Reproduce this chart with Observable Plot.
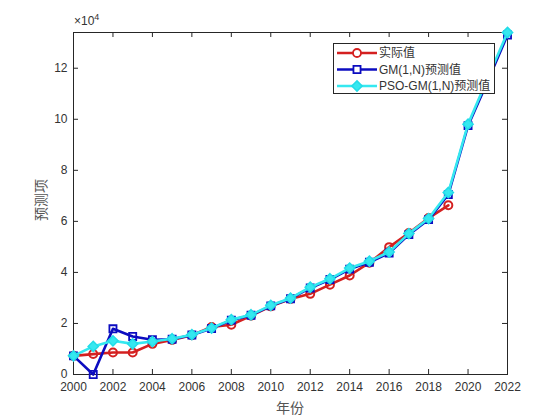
<!DOCTYPE html>
<html><head><meta charset="utf-8">
<script src="https://cdn.jsdelivr.net/npm/d3@7"></script>
<script src="https://cdn.jsdelivr.net/npm/@observablehq/plot@0.6"></script>
<style>
body{margin:0;background:#fff;}
#wrap{position:relative;width:560px;height:420px;font-family:"Liberation Sans",Arial,sans-serif;}
.lbl{position:absolute;font-family:"Noto Sans CJK SC",sans-serif;font-size:14px;color:#555;white-space:nowrap;line-height:1;}
#exp{position:absolute;left:74px;top:12px;font-size:12px;color:#333;}
#exp sup{font-size:9px;}
#legend{position:absolute;left:333px;top:43px;}
</style></head>
<body><div id="wrap"></div>
<script>
const years = [2000,2001,2002,2003,2004,2005,2006,2007,2008,2009,2010,2011,2012,2013,2014,2015,2016,2017,2018,2019,2020,2021,2022];
const actualYears = years.slice(0, 20);
const actual = [7300,8000,8600,8600,12000,13500,15400,18600,19500,23000,26700,29600,31600,35200,38800,43800,49900,55400,61300,66300];
const gm = [7300,0,17900,14900,13600,13800,15500,18000,21300,23200,26900,29700,33900,37200,41300,44000,47600,54800,60700,70500,97500,115000,133000];
const pso = [7300,11000,13200,12000,12900,14000,15600,18200,21500,23400,27100,29900,34200,37500,41700,44400,48000,55200,61100,71300,98100,116200,134000];
const xTicks = [2000,2002,2004,2006,2008,2010,2012,2014,2016,2018,2020,2022];
const yTicks = [0,20000,40000,60000,80000,100000,120000];
const yMax = 134000;
const seriesNames = ["实际值","GM(1,N)预测值","PSO-GM(1,N)预测值"];
const colors = ["#d42020","#0c0cc0","#35e8f0"];

const W = 560, H = 420, mL = 73, mR = 53, mT = 32, mB = 46;
const innerH = H - mT - mB, innerW = W - mL - mR, tk = 5;

const A = actualYears.map((x,i)=>({x, y: actual[i]}));
const G = years.map((x,i)=>({x, y: gm[i]}));
const P = years.map((x,i)=>({x, y: pso[i]}));

const chart = Plot.plot({
  width: W, height: H,
  marginLeft: mL, marginRight: mR, marginTop: mT, marginBottom: mB,
  style: {fontFamily: '"Liberation Sans", Arial, sans-serif', fontSize: "12px", color: "#333", background: "white"},
  x: {domain: [2000, 2022], ticks: xTicks},
  y: {domain: [0, yMax], ticks: yTicks},
  marks: [
    Plot.frame({stroke: "#262626", strokeWidth: 1}),
    Plot.tickX(xTicks, {x: d=>d, insetTop: innerH - tk, stroke: "#262626"}),
    Plot.tickX(xTicks, {x: d=>d, insetBottom: innerH - tk, stroke: "#262626"}),
    Plot.tickY(yTicks, {y: d=>d, insetRight: innerW - tk, stroke: "#262626"}),
    Plot.tickY(yTicks, {y: d=>d, insetLeft: innerW - tk, stroke: "#262626"}),
    Plot.axisX(xTicks, {tickSize: 0, tickPadding: 8, tickFormat: d=>String(d), label: null, fill: "#333"}),
    Plot.axisY(yTicks, {tickSize: 0, tickPadding: 6, tickFormat: d=>String(d/10000), label: null, fill: "#333"}),
    Plot.line(A, {x: "x", y: "y", stroke: colors[0], strokeWidth: 2.6}),
    Plot.dot(A, {x: "x", y: "y", symbol: "circle", r: 4, stroke: colors[0], strokeWidth: 2, fill: "none"}),
    Plot.line(G, {x: "x", y: "y", stroke: colors[1], strokeWidth: 2.6}),
    Plot.dot(G, {x: "x", y: "y", symbol: "square", r: 4, stroke: colors[1], strokeWidth: 1.8, fill: "none"}),
    Plot.line(P, {x: "x", y: "y", stroke: colors[2], strokeWidth: 2.6}),
    Plot.dot(P, {x: "x", y: "y", symbol: "diamond2", r: 4.6, stroke: "#22dce8", strokeWidth: 1.5, fill: colors[2]})
  ]
});
const wrap = document.getElementById("wrap");
wrap.appendChild(chart);

const exp = document.createElement("div");
exp.id = "exp"; exp.innerHTML = "×10<sup>4</sup>";
wrap.appendChild(exp);

const xl = document.createElement("div");
xl.className = "lbl"; xl.textContent = "年份";
xl.style.left = "276px"; xl.style.top = "400px";
wrap.appendChild(xl);

const yl = document.createElement("div");
yl.className = "lbl"; yl.textContent = "预测项";
yl.style.left = "19px"; yl.style.top = "193px"; yl.style.transform = "rotate(-90deg)";
wrap.appendChild(yl);

// legend
const lw = 162, lh = 51;
const leg = d3.select(wrap).append("svg").attr("id","legend").attr("width", lw).attr("height", lh);
leg.append("rect").attr("x",0.5).attr("y",0.5).attr("width",lw-1).attr("height",lh-1).attr("fill","white").attr("stroke","#262626");
const rowsY = [10, 26.5, 43];
const syms = [d3.symbolCircle, d3.symbolSquare, d3.symbolDiamond2];
const rs = [4, 4, 4.6];
seriesNames.forEach((name, i) => {
  const g = leg.append("g").attr("transform", `translate(0,${rowsY[i]})`);
  g.append("line").attr("x1",4).attr("x2",44).attr("stroke",colors[i]).attr("stroke-width",2.6);
  g.append("path").attr("transform","translate(24,0)")
    .attr("d", d3.symbol(syms[i], Math.PI*rs[i]*rs[i])())
    .attr("fill", i===2 ? colors[2] : "white")
    .attr("stroke", i===2 ? "#22dce8" : colors[i]).attr("stroke-width", i===2?1.5:1.8);
  g.append("text").attr("x",46).attr("y",0).attr("dy","0.35em")
    .attr("font-size","12px").attr("fill","#333")
    .attr("font-family",'"Liberation Sans", "Noto Sans CJK SC", Arial, sans-serif')
    .text(name);
});
</script>
</body></html>
